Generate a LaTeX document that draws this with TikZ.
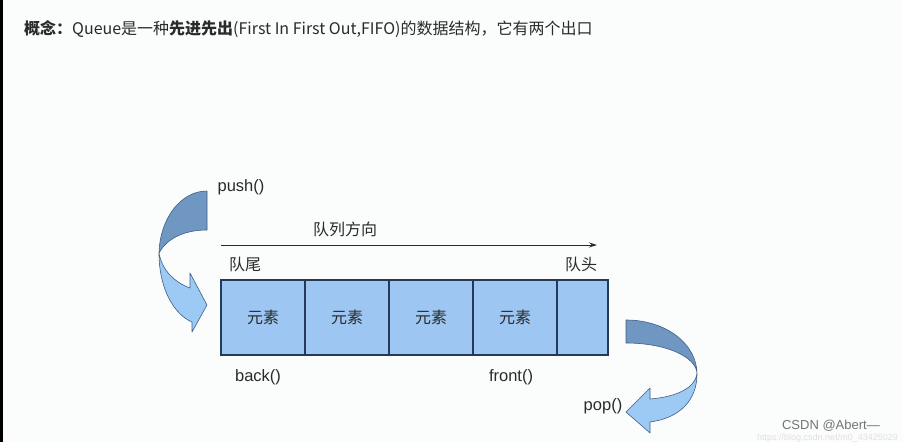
\documentclass[tikz,border=0pt]{standalone}
\usepackage{fontspec}
\setmainfont{Liberation Sans}
\newfontfamily\cjk{Noto Sans CJK SC}
\usetikzlibrary{arrows.meta}
\definecolor{cellfill}{HTML}{9DC6F2}
\definecolor{cellline}{HTML}{243A58}
\definecolor{arrdark}{HTML}{7097C2}
\definecolor{arrlight}{HTML}{9DC9F5}
\definecolor{arrline}{HTML}{3E5E86}
\definecolor{txt}{HTML}{2A2A2A}
\definecolor{bg}{HTML}{FBFDFC}
\tikzset{
  cell/.style={draw=cellline, line width=1.3pt, fill=cellfill, minimum height=75pt, inner sep=0pt, font=\cjk\fontsize{16}{18}\selectfont, text=txt},
  lbl/.style={inner sep=0pt, font=\fontsize{16.5}{18}\selectfont, text=txt},
  clbl/.style={inner sep=0pt, font=\cjk\fontsize{16}{18}\selectfont, text=txt},
  band/.style={draw=arrline, line width=0.6pt, line join=round},
}
\begin{document}
\begin{tikzpicture}[x=1pt,y=-1pt]
\fill[bg] (0,0) rectangle (903,442);
\useasboundingbox (0,0) rectangle (903,442);
\fill[black] (0,0) rectangle (2.5,442);
% title
\node[anchor=west, inner sep=0pt, text=txt, font=\cjk\fontsize{16}{18}\selectfont] (title) at (24,29)
  {\textbf{概念：}Queue是一种\textbf{先进先出}(First In First Out,FIFO)的数据结构，它有两个出口};
% direction arrow
\coordinate (dirS) at (221,245);
\coordinate (dirE) at (597,245);
\draw[line width=1pt, draw=txt, -{Stealth[length=8pt,width=5pt]}] (dirS) -- (dirE);
\node[clbl] (dir) at (345,229) {队列方向};
\node[clbl] (tail) at (245,264) {队尾};
\node[clbl] (head) at (581,264) {队头};
% cells
\node[cell, minimum width=84pt] (c1) at (263,317.5) {元素};
\node[cell, minimum width=84pt] (c2) at (347,317.5) {元素};
\node[cell, minimum width=84pt] (c3) at (431,317.5) {元素};
\node[cell, minimum width=84pt] (c4) at (515,317.5) {元素};
\node[cell, minimum width=51pt] (c5) at (582.5,317.5) {};
\node[lbl] (back) at (258,377) {back()};
\node[lbl] (front) at (511,377) {front()};
\node[lbl] (push) at (241,187) {push()};
\node[lbl] (pop) at (603,406) {pop()};
% push arrow
\filldraw[band, fill=arrdark] (207,191) .. controls (181,191) and (160,218) .. (159,253)
  .. controls (166,240) and (182,230) .. (207,230) -- cycle;
\filldraw[band, fill=arrlight] (159,253) .. controls (159,290) and (175,315) .. (192,322)
  -- (192,332) -- (207,305) -- (190,273) -- (190,288)
  .. controls (174,282) and (162,270) .. (159,253) -- cycle;
% pop arrow
\filldraw[band, fill=arrdark] (626,320) .. controls (666,320) and (697,344) .. (697,374)
  .. controls (697,357) and (666,343) .. (626,343) -- cycle;
\filldraw[band, fill=arrlight] (697,374) .. controls (697,400) and (680,418) .. (650,422)
  -- (650,433) -- (626,412) -- (650,388) -- (650,399)
  .. controls (676,397) and (695,388) .. (697,374) -- cycle;
% watermark
\node[anchor=east, inner sep=0pt, text=black!55, font=\fontsize{13}{14}\selectfont] (wm) at (880,426) {CSDN @Abert—};
\node[anchor=east, inner sep=0pt, text=black!12, font=\fontsize{9}{10}\selectfont] (url) at (898,438) {https://blog.csdn.net/m0\_43425029};
\end{tikzpicture}
\end{document}
